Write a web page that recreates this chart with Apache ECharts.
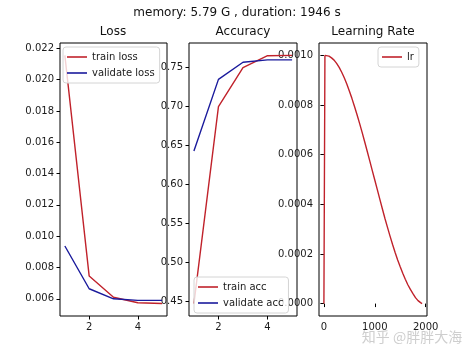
<!DOCTYPE html>
<html>
<head>
<meta charset="utf-8">
<script src="https://cdn.jsdelivr.net/npm/echarts@6/dist/echarts.min.js"></script>
<style>html,body{margin:0;padding:0;background:#fff}#c{width:474px;height:355px}</style>
</head>
<body>
<div id="c"></div>
<script>
const epochs = [1, 2, 3, 4, 5];
const trainLoss = [0.02155, 0.00745, 0.0061, 0.00575, 0.0057];
const valLoss = [0.00937, 0.00664, 0.0060, 0.0059, 0.0059];
const trainAcc = [0.447, 0.700, 0.750, 0.7654, 0.7658];
const valAcc = [0.643, 0.735, 0.757, 0.760, 0.760];
const lrSteps = [0, 20, 50, 100, 150, 200, 250, 300, 350, 400, 450, 500, 550, 600, 650, 700, 750, 800, 850, 900, 950,
  1000, 1050, 1100, 1150, 1200, 1250, 1300, 1350, 1400, 1450, 1500, 1550, 1600, 1650, 1700, 1750, 1800, 1850, 1900, 1930];
const lrValues = [0, 0.001, 0.000999, 0.000997, 0.00099, 0.000981, 0.000968, 0.000952, 0.000932, 0.000910, 0.000885,
  0.000857, 0.000827, 0.000795, 0.000762, 0.000727, 0.000691, 0.000653, 0.000615, 0.000576, 0.000537,
  0.000498, 0.000459, 0.000420, 0.000381, 0.000343, 0.000307, 0.000272, 0.000238, 0.000206, 0.000176,
  0.000148, 0.000122, 0.000098, 0.000076, 0.000057, 0.000040, 0.000024, 0.000012, 0.000004, 0];
const epochTicks = [2, 4];
const lossTicks = [0.006, 0.008, 0.010, 0.012, 0.014, 0.016, 0.018, 0.020, 0.022];
const accTicks = [0.45, 0.50, 0.55, 0.60, 0.65, 0.70, 0.75];
const lrTicks = [0, 0.0002, 0.0004, 0.0006, 0.0008, 0.0010];
const stepTicks = [0, 1000, 2000];
const suptitle = 'memory: 5.79 G , duration: 1946 s';
const titles = ['Loss', 'Accuracy', 'Learning Rate'];

const RED = '#c0222b', BLUE = '#1a1a9c';
const FONT = 'DejaVu Sans';
const pair = (xs, ys) => xs.map((x, i) => [x, ys[i]]);

function axis(gi, min, max, ticks, fmt) {
  return {
    type: 'value', gridIndex: gi, min: min, max: max,
    splitLine: {show: false},
    axisLine: {show: false},
    axisTick: {show: true, length: 3.5, customValues: ticks, lineStyle: {color: '#000', width: 1}},
    axisLabel: {customValues: ticks, margin: 6, fontFamily: FONT, fontSize: 10, color: '#1a1a1a', formatter: fmt}
  };
}

const gridBase = {top: 43, bottom: 39, show: true, borderColor: '#000', borderWidth: 1, backgroundColor: 'transparent'};
const legendBase = {orient: 'vertical', icon: 'rect', itemWidth: 20, itemHeight: 1.6, itemGap: 4, itemTextGap: 8,
  padding: [4, 5, 4, 4], borderColor: '#d4d4d4', borderWidth: 1, borderRadius: 3,
  backgroundColor: 'rgba(255,255,255,0.8)', textStyle: {fontFamily: FONT, fontSize: 10, color: '#1a1a1a', lineHeight: 12}};
const lineSeries = (name, xi, data, color) => ({
  name: name, type: 'line', xAxisIndex: xi, yAxisIndex: xi, data: data, symbol: 'none',
  lineStyle: {color: color, width: 1.4}, itemStyle: {color: color}, animation: false
});

const chart = echarts.init(document.getElementById('c'), null, {renderer: 'canvas'});
chart.setOption({
  animation: false,
  grid: [
    Object.assign({left: 60, right: 307}, gridBase),
    Object.assign({left: 189, right: 177}, gridBase),
    Object.assign({left: 319, right: 47}, gridBase)
  ],
  xAxis: [
    axis(0, 0.8, 5.2, epochTicks, v => String(v)),
    axis(1, 0.8, 5.2, epochTicks, v => String(v)),
    axis(2, -96.5, 2026.5, stepTicks, v => String(v))
  ],
  yAxis: [
    axis(0, 0.0049, 0.02234, lossTicks, v => v.toFixed(3)),
    axis(1, 0.431, 0.7817, accTicks, v => v.toFixed(2)),
    axis(2, -0.00005, 0.00105, lrTicks, v => v.toFixed(4))
  ],
  legend: [
    Object.assign({left: 63, top: 47, data: ['train loss', 'validate loss']}, legendBase),
    Object.assign({left: 194, top: 277, data: ['train acc', 'validate acc']}, legendBase),
    Object.assign({left: 378, top: 47, data: ['lr']}, legendBase)
  ],
  series: [
    lineSeries('train loss', 0, pair(epochs, trainLoss), RED),
    lineSeries('validate loss', 0, pair(epochs, valLoss), BLUE),
    lineSeries('train acc', 1, pair(epochs, trainAcc), RED),
    lineSeries('validate acc', 1, pair(epochs, valAcc), BLUE),
    lineSeries('lr', 2, pair(lrSteps, lrValues), RED)
  ],
  graphic: [
    {type: 'text', x: 237, y: 13, style: {text: suptitle, fontFamily: FONT, fontSize: 12, fill: '#111', align: 'center', verticalAlign: 'middle'}},
    {type: 'text', x: 113, y: 32, style: {text: titles[0], fontFamily: FONT, fontSize: 12, fill: '#111', align: 'center', verticalAlign: 'middle'}},
    {type: 'text', x: 243, y: 32, style: {text: titles[1], fontFamily: FONT, fontSize: 12, fill: '#111', align: 'center', verticalAlign: 'middle'}},
    {type: 'text', x: 373, y: 32, style: {text: titles[2], fontFamily: FONT, fontSize: 12, fill: '#111', align: 'center', verticalAlign: 'middle'}},
    {type: 'text', x: 412, y: 337, z: 100, style: {text: '知乎 @胖胖大海', fontFamily: 'Noto Sans CJK SC', fontSize: 14, fill: 'rgba(190,190,190,0.75)', align: 'center', verticalAlign: 'middle'}}
  ]
});
</script>
</body>
</html>
